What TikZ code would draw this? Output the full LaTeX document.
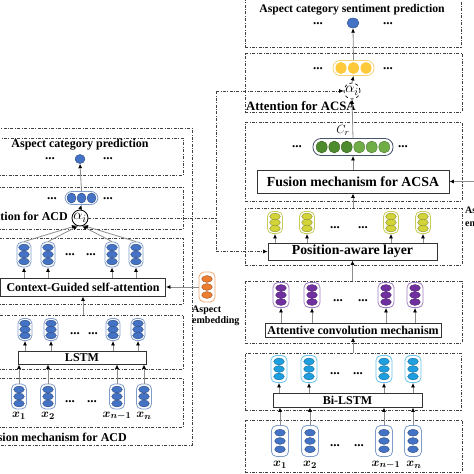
\documentclass[tikz,border=0pt]{standalone}
\usepackage{fontspec}
\setmainfont{Liberation Serif}
\usepackage{amsmath}
\usetikzlibrary{arrows.meta,fit,calc,shapes.geometric}
\definecolor{cBlue}{HTML}{4472C4}
\definecolor{cBlueB}{HTML}{7F9CCB}
\definecolor{cCyan}{HTML}{1E9FE0}
\definecolor{cCyanB}{HTML}{6CC3EC}
\definecolor{cPurp}{HTML}{7030A0}
\definecolor{cPurpB}{HTML}{A07CC0}
\definecolor{cYG}{HTML}{D2D43A}
\definecolor{cYGB}{HTML}{C8CC5A}
\definecolor{cYel}{HTML}{FFC93C}
\definecolor{cYelB}{HTML}{F2D27A}
\definecolor{cOra}{HTML}{ED7D31}
\definecolor{cOraB}{HTML}{F2A873}
\definecolor{cGrD}{HTML}{4E8A2E}
\definecolor{cGrL}{HTML}{70AD47}
\definecolor{cSlate}{HTML}{44546A}
\newcommand\vcapsule[7][]{%
  \node[vcap=#6,#1] (#2) at (#3,#4) {};
  \foreach \k in {-1,0,1}{\draw[draw=#5!65!black, fill=#5, line width=0.4pt] ($(#2.center)+(0,\k*#7)$) ellipse (5.3pt and 3.4pt);}
}
\begin{document}
\begin{tikzpicture}[x=1pt,y=-1pt,
  grp/.style={draw=black!75, line width=0.65pt, dash pattern=on 3pt off 1.5pt on 0.8pt off 1.5pt, inner sep=0pt, outer sep=0pt},
  dd/.style={draw=black!75, line width=0.65pt, dash pattern=on 3pt off 1.5pt on 0.8pt off 1.5pt},
  ddarr/.style={dd, -{Latex[length=4.5pt,width=4pt,color=black]}},
  arr/.style={draw=black!45, line width=0.8pt, -{Latex[length=4.5pt,width=4pt,color=black]}},
  opbox/.style={draw=black!80, line width=0.9pt, fill=white, inner sep=0pt, font=\bfseries\fontsize{12}{14}\selectfont},
  lbl/.style={font=\bfseries\fontsize{12}{14}\selectfont, inner sep=0pt},
  dots/.style={font=\bfseries\fontsize{13}{14}\selectfont, inner sep=0pt},
  vcap/.style={draw=#1, line width=0.8pt, fill=white, rounded corners=5pt, minimum width=15pt, minimum height=26pt, inner sep=0pt},
  hcap/.style={draw=#1, line width=0.8pt, fill=white, rounded corners=7pt, inner sep=0pt},
  xl/.style={inner sep=0pt, font=\fontsize{13}{14}\selectfont},
  alph/.style={circle, fill=white, minimum size=16pt, inner sep=0pt, font=\fontsize{15}{15}\selectfont}
]
\useasboundingbox (0,0) rectangle (474,474);
\clip (0,0) rectangle (474,474);

% ---------------- left column group boxes
\node[grp, fit={(-6,128)(192,445)}] (LO) {};
\node[grp, fit={(-5,138)(183,175)}] (L1) {};
\node[grp, fit={(-5,187)(183,229)}] (L2) {};
\node[grp, fit={(-5,238)(183,304)}] (L3) {};
\node[grp, fit={(-5,315)(183,369)}] (L4) {};
\node[grp, fit={(-5,378)(183,427)}] (L5) {};
\node[lbl, anchor=east] (LOlab) at (127,437) {Fusion mechanism for ACD};

% ---------------- right column group boxes
\node[grp, fit={(245,-3)(461,47)}] (R1) {};
\node[grp, fit={(245,53)(462,112)}] (R2) {};
\node[grp, fit={(245,122)(462,201)}] (R3) {};
\node[grp, fit={(245,208)(462,265)}] (R4) {};
\node[grp, fit={(245,281)(462,343)}] (R5) {};
\node[grp, fit={(245,353)(461,410)}] (R6) {};
\node[grp, fit={(245,420)(462,472)}] (R7) {};

% ---------------- left: input
\vcapsule[minimum width=15pt, minimum height=25pt]{li1}{19}{396.5}{cBlue}{cBlueB}{7}
\vcapsule[minimum width=15pt, minimum height=25pt]{li2}{48}{396.5}{cBlue}{cBlueB}{7}
\vcapsule[minimum width=15pt, minimum height=25pt]{li3}{117}{396.5}{cBlue}{cBlueB}{7}
\vcapsule[minimum width=15pt, minimum height=25pt]{li4}{144}{396.5}{cBlue}{cBlueB}{7}
\node[xl] (lx1) at (19,416) {$\boldsymbol{x_1}$};
\node[xl] (lx2) at (48,416) {$\boldsymbol{x_2}$};
\node[xl] (lx3) at (117,416) {$\boldsymbol{x_{n-1}}$};
\node[xl] (lx4) at (144,416) {$\boldsymbol{x_n}$};
\node[dots] (ld5a) at (70,402) {...};
\node[dots] (ld5b) at (92,402) {...};

% LSTM
\node[opbox, minimum width=128pt, minimum height=13pt] (lstm) at (82,357.5) {LSTM};
\vcapsule[minimum width=14pt, minimum height=22pt]{lh1}{25}{329.5}{cBlue}{cBlueB}{6}
\vcapsule[minimum width=14pt, minimum height=22pt]{lh2}{51}{329.5}{cBlue}{cBlueB}{6}
\vcapsule[minimum width=14pt, minimum height=22pt]{lh3}{113}{329.5}{cBlue}{cBlueB}{6}
\vcapsule[minimum width=14pt, minimum height=22pt]{lh4}{138}{329.5}{cBlue}{cBlueB}{6}
\node[dots] (ld4a) at (75,334) {...};
\node[dots] (ld4b) at (93,334) {...};
\foreach \i in {1,...,4}{
  \draw[arr] (li\i.north) -- (li\i.north |- lstm.south);
  \draw[arr] (lh\i.south |- lstm.north) -- (lh\i.south);
}

% Context-guided
\node[opbox, minimum width=165pt, minimum height=18pt] (ctx) at (83,287) {Context-Guided self-attention};
\draw[arr] (ctx.south |- L4.north) -- (ctx.south);
\vcapsule[minimum width=14pt, minimum height=25pt]{lc1}{24}{254.5}{cBlue}{cBlueB}{7}
\vcapsule[minimum width=14pt, minimum height=25pt]{lc2}{48}{254.5}{cBlue}{cBlueB}{7}
\vcapsule[minimum width=14pt, minimum height=25pt]{lc3}{112}{254.5}{cBlue}{cBlueB}{7}
\vcapsule[minimum width=14pt, minimum height=25pt]{lc4}{136}{254.5}{cBlue}{cBlueB}{7}
\node[dots] (ld3a) at (70,255) {...};
\node[dots] (ld3b) at (91,255) {...};
\foreach \i in {1,...,4}{
  \draw[arr] (lc\i.south |- ctx.north) -- (lc\i.south);
}

% aspect embedding (orange)
\vcapsule[minimum width=16pt, minimum height=30pt]{ae}{207}{287}{cOra}{cOraB}{8}
\draw[arr] (ae.west) -- (ctx.east);
\node[lbl, anchor=north west, align=left, font=\bfseries\fontsize{10}{11}\selectfont] (aelab) at (192,306) {Aspect\\embedding};

% attention for ACD
\node[alph, draw=black, line width=0.8pt] (alphaL) at (80,218) {$\alpha_i$};
\node[lbl, anchor=east] (attL) at (68,216) {Attention for ACD};
\draw[arr] (lc1.north) -- (alphaL.-115);
\draw[arr] (lc2.north) -- (alphaL.-105);
\draw[arr] (lc3.north) -- (alphaL.-75);
\draw[arr] (lc4.north) -- (alphaL.-65);
\node[hcap=cBlueB, minimum width=33pt, minimum height=13pt] (hvL) at (81.5,198) {};
\foreach \k in {-1,0,1}{\draw[draw=cBlue!65!black, fill=cBlue, line width=0.4pt] ($(hvL.center)+(\k*10,0)$) ellipse (4.5pt and 5pt);}
\node[dots] (ld2a) at (52,199) {...};
\node[dots] (ld2b) at (108,199) {...};
\draw[arr] (alphaL.north) -- (hvL.south);

% aspect category prediction
\node[lbl] (acp) at (80,145) {Aspect category prediction};
\node[ellipse, draw=cBlue!65!black, fill=cBlue, minimum width=10pt, minimum height=9pt, inner sep=0pt] (dotL) at (80,159) {};
\node[dots] (ld1a) at (50,159) {...};
\node[dots] (ld1b) at (108,159) {...};
\draw[arr] (hvL.north) -- (dotL.south);

% ---------------- right: input
\vcapsule[minimum width=17pt, minimum height=31pt]{ri1}{280}{441}{cBlue}{cBlueB}{8.3}
\vcapsule[minimum width=17pt, minimum height=31pt]{ri2}{310}{441}{cBlue}{cBlueB}{8.3}
\vcapsule[minimum width=17pt, minimum height=31pt]{ri3}{384}{441}{cBlue}{cBlueB}{8.3}
\vcapsule[minimum width=17pt, minimum height=31pt]{ri4}{413}{441}{cBlue}{cBlueB}{8.3}
\node[xl] (rx1) at (280,465) {$\boldsymbol{x_1}$};
\node[xl] (rx2) at (310,465) {$\boldsymbol{x_2}$};
\node[xl] (rx3) at (386,465) {$\boldsymbol{x_{n-1}}$};
\node[xl] (rx4) at (414,465) {$\boldsymbol{x_n}$};
\node[dots] (rd7a) at (335,446) {...};
\node[dots] (rd7b) at (359,446) {...};

% Bi-LSTM
\node[opbox, minimum width=149pt, minimum height=14pt] (bilstm) at (347.5,400) {Bi-LSTM};
\vcapsule[minimum width=16pt, minimum height=27pt]{rb1}{279}{369}{cCyan}{cCyanB}{7.5}
\vcapsule[minimum width=16pt, minimum height=27pt]{rb2}{309}{369}{cCyan}{cCyanB}{7.5}
\vcapsule[minimum width=16pt, minimum height=27pt]{rb3}{384}{369}{cCyan}{cCyanB}{7.5}
\vcapsule[minimum width=16pt, minimum height=27pt]{rb4}{413}{369}{cCyan}{cCyanB}{7.5}
\node[dots] (rd6a) at (335,374) {...};
\node[dots] (rd6b) at (358,374) {...};
\foreach \i in {1,...,4}{
  \draw[arr] (ri\i.north) -- (ri\i.north |- bilstm.south);
  \draw[arr] (rb\i.south |- bilstm.north) -- (rb\i.south);
}

% Attentive convolution
\node[opbox, minimum width=176pt, minimum height=14pt] (attconv) at (353,330) {Attentive convolution mechanism};
\draw[arr] (attconv.south |- R6.north) -- (attconv.south);
\vcapsule[minimum width=16pt, minimum height=25pt]{rp1}{281}{295}{cPurp}{cPurpB}{7}
\vcapsule[minimum width=16pt, minimum height=25pt]{rp2}{312}{295}{cPurp}{cPurpB}{7}
\vcapsule[minimum width=16pt, minimum height=25pt]{rp3}{386}{295}{cPurp}{cPurpB}{7}
\vcapsule[minimum width=16pt, minimum height=25pt]{rp4}{415}{295}{cPurp}{cPurpB}{7}
\node[dots] (rd5a) at (338,301) {...};
\node[dots] (rd5b) at (363,301) {...};
\foreach \i in {1,...,4}{
  \draw[arr] (rp\i.south |- attconv.north) -- (rp\i.south);
}

% Position-aware
\node[opbox, minimum width=169pt, minimum height=17pt, font=\bfseries\fontsize{13.8}{15}\selectfont] (posaw) at (352.5,251.5) {Position-aware layer};
\draw[arr] (posaw.south |- R5.north) -- (posaw.south);
\vcapsule[minimum width=15pt, minimum height=22pt]{ry1}{275}{222.5}{cYG}{cYGB}{6}
\vcapsule[minimum width=15pt, minimum height=22pt]{ry2}{307}{222.5}{cYG}{cYGB}{6}
\vcapsule[minimum width=15pt, minimum height=22pt]{ry3}{391}{222.5}{cYG}{cYGB}{6}
\vcapsule[minimum width=15pt, minimum height=22pt]{ry4}{423}{222.5}{cYG}{cYGB}{6}
\node[dots] (rd4a) at (335,228) {...};
\node[dots] (rd4b) at (363,228) {...};
\foreach \i in {1,...,4}{
  \draw[arr] (ry\i.south |- posaw.north) -- (ry\i.south);
}

% Fusion ACSA
\node[opbox, minimum width=192pt, minimum height=23pt, font=\bfseries\fontsize{13.8}{15}\selectfont] (fusR) at (353,181.5) {Fusion mechanism for ACSA};
\draw[arr] (fusR.south |- R4.north) -- (fusR.south);
\coordinate (aeRc) at (482,181.5);
\draw[arr] (aeRc) -- (fusR.east);
\node[lbl, anchor=north west, align=left, font=\bfseries\fontsize{10}{13}\selectfont] (aelabR) at (465,207) {Aspect\\embedding};
\node[hcap=cSlate, minimum width=80pt, minimum height=17pt, rounded corners=8pt] (gv) at (353,147) {};
\foreach \k/\c in {-2.5/cGrD,-1.5/cGrD,-0.5/cGrD,0.5/cGrL,1.5/cGrL,2.5/cGrL}{\fill[\c, draw=\c!70!black, line width=0.4pt] ($(gv.center)+(\k*12.5,0)$) ellipse (5.5pt and 6pt);}
\node[dots] (rd3a) at (297,147) {...};
\node[dots] (rd3b) at (403,147) {...};
\draw[arr] (fusR.north) -- (gv.south);

% attention for ACSA
\node[alph, draw=black, dashed, line width=0.7pt] (alphaR) at (352,91) {$\alpha_i$};
\node[lbl, anchor=west, font=\bfseries\fontsize{12.8}{14}\selectfont] (attR) at (246,106) {Attention for ACSA};
\draw[arr] (gv.north) -- (alphaR.south);
\node[inner sep=0pt, font=\fontsize{13}{14}\selectfont] (crlab) at (343,130) {$C_r$};
\node[hcap=cYelB, minimum width=41pt, minimum height=15pt] (yv) at (353.5,68) {};
\foreach \k in {-1,0,1}{\fill[cYel] ($(yv.center)+(\k*12.5,0)$) ellipse (5.5pt and 6pt);}
\node[dots] (rd2a) at (318,69) {...};
\node[dots] (rd2b) at (388,69) {...};
\draw[arr] (alphaR.north) -- (yv.south);

% aspect category sentiment prediction
\node[lbl, font=\bfseries\fontsize{11.7}{14}\selectfont] (acsp) at (352,10) {Aspect category sentiment prediction};
\node[ellipse, draw=cBlue!65!black, fill=cBlue, minimum width=12pt, minimum height=10pt, inner sep=0pt] (dotR) at (353,23) {};
\node[dots] (rd1a) at (318,24) {...};
\node[dots] (rd1b) at (388,24) {...};
\draw[arr] (yv.north) -- (dotR.south);

% ---------------- feedback dash-dot connector
\coordinate (fbTop) at (216,91);
\coordinate (fbBot) at (216,251.5);
\draw[dd] (alphaL.east) -- (alphaL.east -| fbTop);
\draw[dd] (fbTop) -- (fbBot);
\draw[ddarr] (fbTop) -- (alphaR.west);
\draw[ddarr] (fbBot) -- (posaw.west);
\end{tikzpicture}
\end{document}
